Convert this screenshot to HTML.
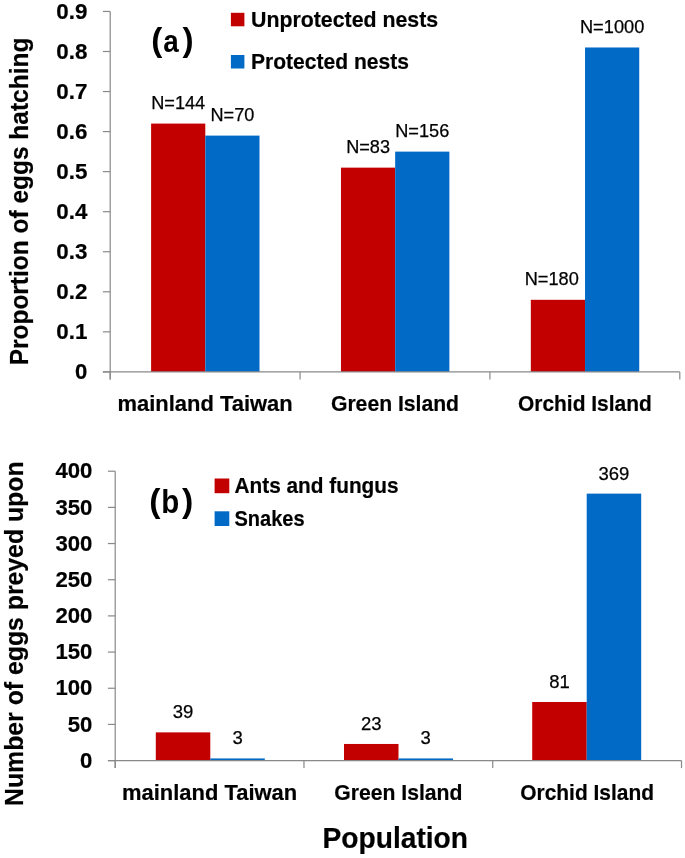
<!DOCTYPE html>
<html><head><meta charset="utf-8"><title>Egg hatching and predation</title>
<style>
html,body{margin:0;padding:0;background:#fff;}
body{width:685px;height:858px;overflow:hidden;}
svg{display:block;filter:blur(0.35px);}
text{font-family:'Liberation Sans', Arial, sans-serif;fill:#000;}
</style></head><body>
<svg width="685" height="858" viewBox="0 0 685 858">
<rect width="685" height="858" fill="#fff"/>
<rect x="151.10" y="123.59" width="54.20" height="248.31" fill="#C30000"/>
<text x="178.20" y="108.99" font-size="18.88" font-weight="normal" text-anchor="middle" textLength="54.08" lengthAdjust="spacingAndGlyphs" stroke="#000" stroke-width="0.25">N=144</text>
<rect x="205.30" y="135.60" width="54.20" height="236.29" fill="#006AC6"/>
<text x="232.40" y="121.00" font-size="18.88" font-weight="normal" text-anchor="middle" textLength="43.79" lengthAdjust="spacingAndGlyphs" stroke="#000" stroke-width="0.25">N=70</text>
<rect x="340.97" y="167.64" width="54.20" height="204.25" fill="#C30000"/>
<text x="368.07" y="153.04" font-size="18.88" font-weight="normal" text-anchor="middle" textLength="43.79" lengthAdjust="spacingAndGlyphs" stroke="#000" stroke-width="0.25">N=83</text>
<rect x="395.17" y="151.62" width="54.20" height="220.28" fill="#006AC6"/>
<text x="422.27" y="137.02" font-size="18.88" font-weight="normal" text-anchor="middle" textLength="54.08" lengthAdjust="spacingAndGlyphs" stroke="#000" stroke-width="0.25">N=156</text>
<rect x="530.83" y="299.81" width="54.20" height="72.09" fill="#C30000"/>
<text x="551.73" y="285.21" font-size="18.88" font-weight="normal" text-anchor="middle" textLength="54.08" lengthAdjust="spacingAndGlyphs" stroke="#000" stroke-width="0.25">N=180</text>
<rect x="585.03" y="47.49" width="54.20" height="324.41" fill="#006AC6"/>
<text x="612.13" y="32.89" font-size="18.88" font-weight="normal" text-anchor="middle" textLength="64.37" lengthAdjust="spacingAndGlyphs" stroke="#000" stroke-width="0.25">N=1000</text>
<line x1="110.20" y1="11.45" x2="110.20" y2="379.40" stroke="#898989" stroke-width="1.2"/>
<line x1="102.90" y1="371.90" x2="679.80" y2="371.90" stroke="#898989" stroke-width="1.2"/>
<line x1="102.90" y1="371.90" x2="110.20" y2="371.90" stroke="#898989" stroke-width="1.2"/>
<text x="87.40" y="379.10" font-size="22.60" font-weight="bold" text-anchor="end" textLength="12.32" lengthAdjust="spacingAndGlyphs" stroke="#000" stroke-width="0.2">0</text>
<line x1="102.90" y1="331.85" x2="110.20" y2="331.85" stroke="#898989" stroke-width="1.2"/>
<text x="87.40" y="339.05" font-size="22.60" font-weight="bold" text-anchor="end" textLength="31.12" lengthAdjust="spacingAndGlyphs" stroke="#000" stroke-width="0.2">0.1</text>
<line x1="102.90" y1="291.80" x2="110.20" y2="291.80" stroke="#898989" stroke-width="1.2"/>
<text x="87.40" y="299.00" font-size="22.60" font-weight="bold" text-anchor="end" textLength="31.12" lengthAdjust="spacingAndGlyphs" stroke="#000" stroke-width="0.2">0.2</text>
<line x1="102.90" y1="251.75" x2="110.20" y2="251.75" stroke="#898989" stroke-width="1.2"/>
<text x="87.40" y="258.95" font-size="22.60" font-weight="bold" text-anchor="end" textLength="31.12" lengthAdjust="spacingAndGlyphs" stroke="#000" stroke-width="0.2">0.3</text>
<line x1="102.90" y1="211.70" x2="110.20" y2="211.70" stroke="#898989" stroke-width="1.2"/>
<text x="87.40" y="218.90" font-size="22.60" font-weight="bold" text-anchor="end" textLength="31.12" lengthAdjust="spacingAndGlyphs" stroke="#000" stroke-width="0.2">0.4</text>
<line x1="102.90" y1="171.65" x2="110.20" y2="171.65" stroke="#898989" stroke-width="1.2"/>
<text x="87.40" y="178.85" font-size="22.60" font-weight="bold" text-anchor="end" textLength="31.12" lengthAdjust="spacingAndGlyphs" stroke="#000" stroke-width="0.2">0.5</text>
<line x1="102.90" y1="131.60" x2="110.20" y2="131.60" stroke="#898989" stroke-width="1.2"/>
<text x="87.40" y="138.80" font-size="22.60" font-weight="bold" text-anchor="end" textLength="31.12" lengthAdjust="spacingAndGlyphs" stroke="#000" stroke-width="0.2">0.6</text>
<line x1="102.90" y1="91.55" x2="110.20" y2="91.55" stroke="#898989" stroke-width="1.2"/>
<text x="87.40" y="98.75" font-size="22.60" font-weight="bold" text-anchor="end" textLength="31.12" lengthAdjust="spacingAndGlyphs" stroke="#000" stroke-width="0.2">0.7</text>
<line x1="102.90" y1="51.50" x2="110.20" y2="51.50" stroke="#898989" stroke-width="1.2"/>
<text x="87.40" y="58.70" font-size="22.60" font-weight="bold" text-anchor="end" textLength="31.12" lengthAdjust="spacingAndGlyphs" stroke="#000" stroke-width="0.2">0.8</text>
<line x1="102.90" y1="11.45" x2="110.20" y2="11.45" stroke="#898989" stroke-width="1.2"/>
<text x="87.40" y="18.65" font-size="22.60" font-weight="bold" text-anchor="end" textLength="31.12" lengthAdjust="spacingAndGlyphs" stroke="#000" stroke-width="0.2">0.9</text>
<line x1="110.20" y1="371.90" x2="110.20" y2="379.40" stroke="#898989" stroke-width="1.2"/>
<line x1="300.07" y1="371.90" x2="300.07" y2="379.40" stroke="#898989" stroke-width="1.2"/>
<line x1="489.93" y1="371.90" x2="489.93" y2="379.40" stroke="#898989" stroke-width="1.2"/>
<line x1="679.80" y1="371.90" x2="679.80" y2="379.40" stroke="#898989" stroke-width="1.2"/>
<text x="205.13" y="411.30" font-size="22.79" font-weight="bold" text-anchor="middle" textLength="175.18" lengthAdjust="spacingAndGlyphs" stroke="#000" stroke-width="0.2">mainland Taiwan</text>
<text x="395.00" y="411.30" font-size="22.79" font-weight="bold" text-anchor="middle" textLength="128.11" lengthAdjust="spacingAndGlyphs" stroke="#000" stroke-width="0.2">Green Island</text>
<text x="584.87" y="411.30" font-size="22.79" font-weight="bold" text-anchor="middle" textLength="133.75" lengthAdjust="spacingAndGlyphs" stroke="#000" stroke-width="0.2">Orchid Island</text>
<rect x="230.90" y="12.80" width="13.50" height="13.50" fill="#C30000"/>
<text x="251.00" y="27.10" font-size="22.79" font-weight="bold" text-anchor="start" textLength="187.11" lengthAdjust="spacingAndGlyphs" stroke="#000" stroke-width="0.2">Unprotected nests</text>
<rect x="230.90" y="55.00" width="13.50" height="13.50" fill="#006AC6"/>
<text x="251.00" y="68.90" font-size="22.79" font-weight="bold" text-anchor="start" textLength="157.86" lengthAdjust="spacingAndGlyphs" stroke="#000" stroke-width="0.2">Protected nests</text>
<text x="151.30" y="50.70" font-size="33.30" font-weight="bold">(<tspan x="163.30" y="51.70" font-size="31.50" textLength="15.50" lengthAdjust="spacingAndGlyphs">a</tspan><tspan x="182.50" y="50.70">)</tspan></text>
<text x="28.40" y="201.50" font-size="26.60" font-weight="bold" text-anchor="middle" textLength="327.74" lengthAdjust="spacingAndGlyphs" stroke="#000" stroke-width="0.2" transform="rotate(-90 28.40 201.50)">Proportion of eggs hatching</text>
<rect x="155.80" y="732.38" width="54.50" height="28.22" fill="#C30000"/>
<text x="183.05" y="718.38" font-size="18.88" font-weight="normal" text-anchor="middle" textLength="20.58" lengthAdjust="spacingAndGlyphs" stroke="#000" stroke-width="0.25">39</text>
<rect x="210.30" y="758.43" width="54.50" height="2.17" fill="#006AC6"/>
<text x="237.55" y="744.43" font-size="18.88" font-weight="normal" text-anchor="middle" textLength="10.29" lengthAdjust="spacingAndGlyphs" stroke="#000" stroke-width="0.25">3</text>
<rect x="344.00" y="743.96" width="54.50" height="16.64" fill="#C30000"/>
<text x="371.25" y="729.96" font-size="18.88" font-weight="normal" text-anchor="middle" textLength="20.58" lengthAdjust="spacingAndGlyphs" stroke="#000" stroke-width="0.25">23</text>
<rect x="398.50" y="758.43" width="54.50" height="2.17" fill="#006AC6"/>
<text x="425.75" y="744.43" font-size="18.88" font-weight="normal" text-anchor="middle" textLength="10.29" lengthAdjust="spacingAndGlyphs" stroke="#000" stroke-width="0.25">3</text>
<rect x="532.20" y="702.00" width="54.50" height="58.60" fill="#C30000"/>
<text x="559.45" y="688.00" font-size="18.88" font-weight="normal" text-anchor="middle" textLength="20.58" lengthAdjust="spacingAndGlyphs" stroke="#000" stroke-width="0.25">81</text>
<rect x="586.70" y="493.63" width="54.50" height="266.97" fill="#006AC6"/>
<text x="613.95" y="479.63" font-size="18.88" font-weight="normal" text-anchor="middle" textLength="30.87" lengthAdjust="spacingAndGlyphs" stroke="#000" stroke-width="0.25">369</text>
<line x1="115.20" y1="471.20" x2="115.20" y2="768.10" stroke="#898989" stroke-width="1.2"/>
<line x1="107.90" y1="760.60" x2="681.50" y2="760.60" stroke="#898989" stroke-width="1.2"/>
<line x1="107.90" y1="760.60" x2="115.20" y2="760.60" stroke="#898989" stroke-width="1.2"/>
<text x="92.40" y="767.80" font-size="22.60" font-weight="bold" text-anchor="end" textLength="12.32" lengthAdjust="spacingAndGlyphs" stroke="#000" stroke-width="0.2">0</text>
<line x1="107.90" y1="724.43" x2="115.20" y2="724.43" stroke="#898989" stroke-width="1.2"/>
<text x="92.40" y="731.63" font-size="22.60" font-weight="bold" text-anchor="end" textLength="24.63" lengthAdjust="spacingAndGlyphs" stroke="#000" stroke-width="0.2">50</text>
<line x1="107.90" y1="688.25" x2="115.20" y2="688.25" stroke="#898989" stroke-width="1.2"/>
<text x="92.40" y="695.45" font-size="22.60" font-weight="bold" text-anchor="end" textLength="36.95" lengthAdjust="spacingAndGlyphs" stroke="#000" stroke-width="0.2">100</text>
<line x1="107.90" y1="652.08" x2="115.20" y2="652.08" stroke="#898989" stroke-width="1.2"/>
<text x="92.40" y="659.28" font-size="22.60" font-weight="bold" text-anchor="end" textLength="36.95" lengthAdjust="spacingAndGlyphs" stroke="#000" stroke-width="0.2">150</text>
<line x1="107.90" y1="615.90" x2="115.20" y2="615.90" stroke="#898989" stroke-width="1.2"/>
<text x="92.40" y="623.10" font-size="22.60" font-weight="bold" text-anchor="end" textLength="36.95" lengthAdjust="spacingAndGlyphs" stroke="#000" stroke-width="0.2">200</text>
<line x1="107.90" y1="579.73" x2="115.20" y2="579.73" stroke="#898989" stroke-width="1.2"/>
<text x="92.40" y="586.93" font-size="22.60" font-weight="bold" text-anchor="end" textLength="36.95" lengthAdjust="spacingAndGlyphs" stroke="#000" stroke-width="0.2">250</text>
<line x1="107.90" y1="543.55" x2="115.20" y2="543.55" stroke="#898989" stroke-width="1.2"/>
<text x="92.40" y="550.75" font-size="22.60" font-weight="bold" text-anchor="end" textLength="36.95" lengthAdjust="spacingAndGlyphs" stroke="#000" stroke-width="0.2">300</text>
<line x1="107.90" y1="507.38" x2="115.20" y2="507.38" stroke="#898989" stroke-width="1.2"/>
<text x="92.40" y="514.58" font-size="22.60" font-weight="bold" text-anchor="end" textLength="36.95" lengthAdjust="spacingAndGlyphs" stroke="#000" stroke-width="0.2">350</text>
<line x1="107.90" y1="471.20" x2="115.20" y2="471.20" stroke="#898989" stroke-width="1.2"/>
<text x="92.40" y="478.40" font-size="22.60" font-weight="bold" text-anchor="end" textLength="36.95" lengthAdjust="spacingAndGlyphs" stroke="#000" stroke-width="0.2">400</text>
<line x1="115.20" y1="760.60" x2="115.20" y2="768.10" stroke="#898989" stroke-width="1.2"/>
<line x1="303.97" y1="760.60" x2="303.97" y2="768.10" stroke="#898989" stroke-width="1.2"/>
<line x1="492.73" y1="760.60" x2="492.73" y2="768.10" stroke="#898989" stroke-width="1.2"/>
<line x1="681.50" y1="760.60" x2="681.50" y2="768.10" stroke="#898989" stroke-width="1.2"/>
<text x="209.58" y="799.70" font-size="22.79" font-weight="bold" text-anchor="middle" textLength="175.18" lengthAdjust="spacingAndGlyphs" stroke="#000" stroke-width="0.2">mainland Taiwan</text>
<text x="398.35" y="799.70" font-size="22.79" font-weight="bold" text-anchor="middle" textLength="128.11" lengthAdjust="spacingAndGlyphs" stroke="#000" stroke-width="0.2">Green Island</text>
<text x="587.12" y="799.70" font-size="22.79" font-weight="bold" text-anchor="middle" textLength="133.75" lengthAdjust="spacingAndGlyphs" stroke="#000" stroke-width="0.2">Orchid Island</text>
<rect x="214.60" y="478.50" width="14.70" height="14.70" fill="#C30000"/>
<text x="234.50" y="493.00" font-size="22.79" font-weight="bold" text-anchor="start" textLength="164.08" lengthAdjust="spacingAndGlyphs" stroke="#000" stroke-width="0.2">Ants and fungus</text>
<rect x="214.60" y="511.30" width="14.70" height="14.70" fill="#006AC6"/>
<text x="234.50" y="525.60" font-size="22.79" font-weight="bold" text-anchor="start" textLength="70.02" lengthAdjust="spacingAndGlyphs" stroke="#000" stroke-width="0.2">Snakes</text>
<text x="149.30" y="511.90" font-size="33.80" font-weight="bold">(<tspan x="161.20" y="512.90" font-size="33.30" textLength="18.00" lengthAdjust="spacingAndGlyphs">b</tspan><tspan x="182.00" y="511.90">)</tspan></text>
<text x="22.60" y="633.70" font-size="26.60" font-weight="bold" text-anchor="middle" textLength="344.53" lengthAdjust="spacingAndGlyphs" stroke="#000" stroke-width="0.2" transform="rotate(-90 22.60 633.70)">Number of eggs preyed upon</text>
<text x="395.30" y="848.30" font-size="29.95" font-weight="bold" text-anchor="middle" textLength="145.44" lengthAdjust="spacingAndGlyphs" stroke="#000" stroke-width="0.2">Population</text>
</svg>
</body></html>
